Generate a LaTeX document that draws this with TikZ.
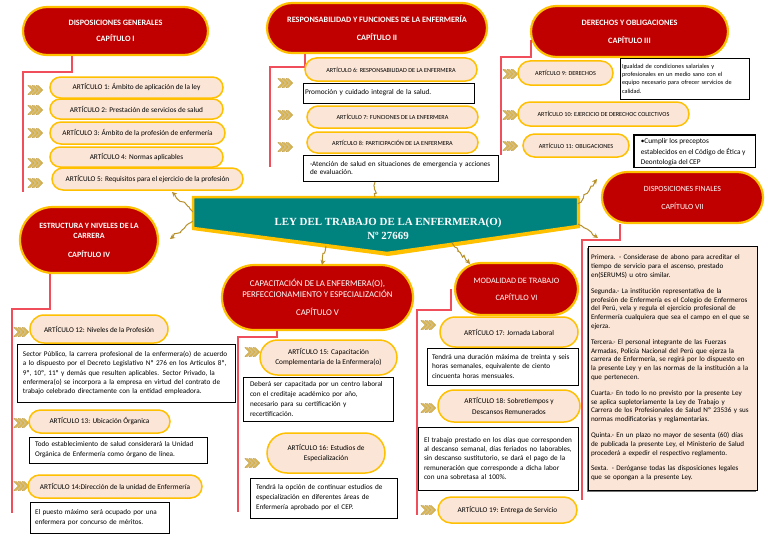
\documentclass[tikz,border=0pt]{standalone}
\usepackage{fontspec}
\setmainfont{Carlito}
\newfontfamily\bannerfont{Liberation Serif}
\usetikzlibrary{shapes.misc,decorations.pathmorphing,arrows.meta}
\definecolor{cred}{HTML}{C00000}
\definecolor{cgold}{HTML}{FFC000}
\definecolor{cpeach}{HTML}{FBE5D6}
\definecolor{cline}{HTML}{F04E5A}
\definecolor{cteal}{HTML}{00827F}
\definecolor{cchev}{HTML}{E6C25A}
\definecolor{cchevd}{HTML}{B08A2E}
\definecolor{cwave}{HTML}{B8902A}
\begin{document}
\begin{tikzpicture}[x=1pt,y=-1pt,
 chap/.style={rounded rectangle, fill=cred, draw=cgold, line width=2.2pt, text=white, align=center, font=\fontsize{8.2}{10}\selectfont\bfseries, inner sep=0pt},
 chapn/.style={chap, font=\fontsize{8.2}{10}\selectfont},
 art/.style={rounded rectangle, fill=cpeach, draw=cgold, line width=1.5pt, align=center, font=\fontsize{7.3}{10}\selectfont, inner sep=0pt},
 artc/.style={art, font=\fontsize{6.2}{7}\selectfont},
 tbox/.style={rectangle, draw=black, fill=white, line width=0.8pt, align=left, font=\fontsize{7.2}{9.2}\selectfont, inner sep=0pt},
 redl/.style={draw=cline, line width=1.8pt},
 wave/.style={draw=cwave, line width=1pt, -{Stealth[length=5pt,width=5pt]}, decorate, decoration={random steps, segment length=2.5pt, amplitude=1.6pt, pre length=1pt, post length=4pt}},
 wavep/.style={draw=cwave, line width=1pt, decorate, decoration={random steps, segment length=2.5pt, amplitude=1.6pt}},
 chevs/.pic={\foreach \i in {0,4,8}{\filldraw[fill=cchev,draw=cchevd,line width=0.4pt] (\i,-4.5)--(\i+2.2,-4.5)--(\i+6.5,0)--(\i+2.2,4.5)--(\i,4.5)--(\i+4.3,0)--cycle;}}
]
\useasboundingbox (0,0) rectangle (768,543);
\fill[white] (0,0) rectangle (768,543);

% ---------- banner ----------
\fill[cgold] (192,198)--(580,198)--(580,228)--(388,256)--(192,230)--cycle;
\draw[cgold, line width=2.5pt, fill=cteal] (193,197)--(578,197)--(578,226)--(387,253)--(193,228)--cycle;
\node[font=\bannerfont\bfseries\fontsize{10.9}{14}\selectfont, text=white, align=center] (ley) at (388,229) {LEY DEL TRABAJO DE LA ENFERMERA(O)\\Nº 27669};

% ---------- chapters ----------
\node[chap, minimum width=185pt, minimum height=48pt] (c1) at (115.5,31) {DISPOSICIONES GENERALES\\[6pt]CAPÍTULO I};
\node[chap, minimum width=220pt, minimum height=50pt] (c2) at (377,28) {RESPONSABILIDAD Y FUNCIONES DE LA ENFERMERÍA\\[8pt]CAPÍTULO II};
\node[chap, minimum width=197pt, minimum height=51pt] (c3) at (629.5,31.5) {DERECHOS Y OBLIGACIONES\\[8pt]CAPÍTULO III};
\node[chap, minimum width=138pt, minimum height=66pt, font=\fontsize{8}{10}\selectfont\bfseries] (c4) at (89,240) {ESTRUCTURA Y NIVELES DE LA\\CARRERA\\[9pt]CAPÍTULO IV};
\node[chapn, minimum width=191pt, minimum height=65pt, font=\fontsize{8.8}{11}\selectfont] (c5) at (317.5,297.5) {CAPACITACIÓN DE LA ENFERMERA(O),\\PERFECCIONAMIENTO Y ESPECIALIZACIÓN\\[7pt]CAPÍTULO V};
\node[chapn, minimum width=123pt, minimum height=52pt] (c6) at (516.5,289) {MODALIDAD DE TRABAJO\\[7pt]CAPÍTULO VI};
\node[chapn, minimum width=161pt, minimum height=51pt, font=\fontsize{7.9}{10}\selectfont] (c7) at (682.5,197.5) {DISPOSICIONES FINALES\\[8pt]CAPÍTULO VII};

% ---------- red bracket lines ----------
\draw[redl] ([xshift=-43.5pt]c1.south) |- (23,72) -- (23,192);
\draw[redl] ([xshift=-72pt]c2.south) |- (270,67) -- (270,167);
\draw[redl] ([yshift=-8.5pt,xshift=1pt]c3.west) |- (501,57) -- (501,155);
\draw[redl] ([xshift=-39pt]c4.south) |- (12,309) -- (12,513);
\draw[redl] ([xshift=-40.5pt]c5.south) |- (238,337) -- (238,512);
\draw[redl] ([xshift=-3pt]c6.west) |- (417,310) -- (417,515);
\draw[redl] ([xshift=-62.5pt]c7.south) |- (582,240) -- (582,500);

% ---------- chevrons ----------
\foreach \y in {90,110,133,163,183} {\pic at (28,\y) {chevs};}
\foreach \y in {83,115,147} {\pic at (278,\y) {chevs};}
\foreach \y in {74,115,146} {\pic at (503,\y) {chevs};}
\foreach \y in {332,423,486} {\pic at (14,\y) {chevs};}
\foreach \y in {352,463} {\pic at (245,\y) {chevs};}
\foreach \y in {325,408,510} {\pic at (421,\y) {chevs};}

% ---------- articles ----------
\node[art, minimum width=173pt, minimum height=21pt] (a1) at (136.5,87.5) {ARTÍCULO 1: Ámbito de aplicación de la ley};
\node[art, minimum width=173pt, minimum height=20pt] (a2) at (136.5,109) {ARTÍCULO 2: Prestación de servicios de salud};
\node[art, minimum width=175pt, minimum height=22pt] (a3) at (137.5,133) {ARTÍCULO 3: Ámbito de la profesión de enfermería};
\node[art, minimum width=173pt, minimum height=20pt] (a4) at (136.5,157) {ARTÍCULO 4: Normas aplicables};
\node[art, minimum width=191pt, minimum height=22pt] (a5) at (147.5,179) {ARTÍCULO 5: Requisitos para el ejercicio de la profesión};

\node[artc, minimum width=172pt, minimum height=23pt] (a6) at (391,69.5) {ARTÍCULO 6: RESPONSABILIDAD DE LA ENFERMERA};
\node[artc, minimum width=171pt, minimum height=22pt] (a7) at (392.5,117) {ARTÍCULO 7: FUNCIONES DE LA ENFERMERA};
\node[artc, minimum width=171pt, minimum height=21pt] (a8) at (392.5,142.5) {ARTÍCULO 8: PARTICIPACIÓN DE LA ENFERMERA};

\node[artc, minimum width=95pt, minimum height=24pt] (a9) at (565.5,73) {ARTÍCULO 9: DERECHOS};
\node[artc, minimum width=171pt, minimum height=24pt] (a10) at (603.5,114) {ARTÍCULO 10: EJERCICIO DE DERECHOC COLECTIVOS};
\node[artc, minimum width=106pt, minimum height=23pt] (a11) at (576,145.5) {ARTÍCULO 11: OBLIGACIONES};

\node[art, minimum width=138pt, minimum height=28pt] (a12) at (99,329) {ARTÍCULO 12: Niveles de la Profesión};
\node[art, minimum width=141pt, minimum height=23pt] (a13) at (99.5,421.5) {ARTÍCULO 13: Ubicación Órganica};
\node[art, minimum width=174pt, minimum height=23pt] (a14) at (115,486.5) {ARTÍCULO 14:Dirección de la unidad de Enfermería};

\node[art, minimum width=137pt, minimum height=35pt] (a15) at (328.5,357.5) {ARTÍCULO 15: Capacitación\\Complementaria de la Enfermera(o)};
\node[art, minimum width=118pt, minimum height=40pt] (a16) at (326,453) {ARTÍCULO 16: Estudios de\\Especialización};

\node[art, minimum width=138pt, minimum height=30pt] (a17) at (509,332) {ARTÍCULO 17: Jornada Laboral};
\node[art, minimum width=142pt, minimum height=32pt, font=\fontsize{7.3}{11}\selectfont] (a18) at (509,406) {ARTÍCULO 18: Sobretiempos y\\Descansos Remunerados};
\node[art, minimum width=139pt, minimum height=26pt] (a19) at (507.5,510) {ARTÍCULO 19: Entrega de Servicio};

% ---------- text boxes ----------
\node[tbox, minimum width=171pt, minimum height=20pt, text width=167pt, font=\fontsize{7.3}{9}\selectfont] (b6) at (388.5,93) {Promoción y cuidado integral de la salud.};
\node[tbox, minimum width=195pt, minimum height=26pt, text width=181pt, font=\fontsize{7.2}{8.6}\selectfont] (b8) at (400.5,168) {-Atención de salud en situaciones de emergencia y acciones\\de evaluación.};
\node[tbox, minimum width=129pt, minimum height=41pt, text width=125pt, font=\fontsize{6.2}{8.4}\selectfont] (b9) at (684.5,78.5) {Igualdad de condiciones salariales y\\profesionales en un medio sano con el\\equipo necesario para ofrecer servicios de\\calidad.};
\node[tbox, minimum width=121pt, minimum height=32pt] (b11) at (694.5,151) {};
\begin{scope}
\clip (b11.south west) rectangle (b11.north east);
\node[anchor=north west, align=left, inner sep=0pt, font=\fontsize{7.3}{10.5}\selectfont] (b11t) at ([xshift=7pt,yshift=-4pt]b11.north west) {•Cumplir los preceptos\\establecidos en el Código de Ética y\\Deontología del CEP};
\end{scope}
\draw[line width=0.8pt] (b11.south west) rectangle (b11.north east);

\node[tbox, minimum width=218pt, minimum height=58pt, text width=206pt, font=\fontsize{7.2}{9.4}\selectfont] (b12) at (126,373) {Sector Público, la carrera profesional de la enfermera(o) de acuerdo\\a lo dispuesto por el Decreto Legislativo Nº 276 en los Artículos 8º,\\9º, 10º, 11º y demás que resulten aplicables. Sector Privado, la\\enfermera(o) se incorpora a la empresa en virtud del contrato de\\trabajo celebrado directamente con la entidad empleadora.};
\node[tbox, minimum width=178pt, minimum height=26pt, text width=166pt, font=\fontsize{7.2}{10}\selectfont] (b13) at (118,450) {Todo establecimiento de salud considerará la Unidad\\Orgánica de Enfermería como órgano de línea.};
\node[tbox, minimum width=139pt, minimum height=31pt, text width=129pt] (b14) at (99.5,517.5) {El puesto máximo será ocupado por una\\enfermera por concurso de méritos.};

\node[tbox, minimum width=150pt, minimum height=44pt, text width=136pt, font=\fontsize{7.2}{9.7}\selectfont] (b15) at (318,399) {Deberá ser capacitada por un centro laboral\\con el creditaje académico por año,\\necesario para su certificación y\\recertificación.};
\node[tbox, minimum width=147pt, minimum height=40pt, text width=135pt, font=\fontsize{7.2}{10}\selectfont] (b16) at (323.5,498) {Tendrá la opción de continuar estudios de\\especialización en diferentes áreas de\\Enfermería aprobado por el CEP.};

\node[tbox, minimum width=151pt, minimum height=37pt, text width=141pt, font=\fontsize{7.2}{9.5}\selectfont] (b17) at (502.5,366.5) {Tendrá una duración máxima de treinta y seis\\horas semanales, equivalente de ciento\\cincuenta horas mensuales.};
\node[tbox, minimum width=160pt, minimum height=63pt, text width=148pt, font=\fontsize{7.2}{9.2}\selectfont] (b18) at (498,458.5) {El trabajo prestado en los días que corresponden\\al descanso semanal, días feriados no laborables,\\sin descanso sustitutorio, se dará el pago de la\\remuneración que corresponde a dicha labor\\con una sobretasa al 100\%.};

\fill[black!55] (587,248) rectangle (756,492);
\node[tbox, fill=cpeach, minimum width=169pt, minimum height=244pt, text width=163pt, font=\fontsize{7.1}{8.8}\selectfont] (b7) at (672.5,368) {Primera. - Considerase de abono para acreditar el\\tiempo de servicio para el ascenso, prestado\\en(SERUMS) u otro similar.\\[7pt]
Segunda.- La institución representativa de la\\profesión de Enfermería es el Colegio de Enfermeros\\del Perú, vela y regula el ejercicio profesional de\\Enfermería cualquiera que sea el campo en el que se\\ejerza.\\[7pt]
Tercera.- El personal integrante de las Fuerzas\\Armadas, Policía Nacional del Perú que ejerza la\\carrera de Enfermería, se regirá por lo dispuesto en\\la presente Ley y en las normas de la institución a la\\que pertenecen.\\[7pt]
Cuarta.- En todo lo no previsto por la presente Ley\\se aplica supletoriamente la Ley de Trabajo y\\Carrera de los Profesionales de Salud Nº 23536 y sus\\normas modificatorias y reglamentarias.\\[7pt]
Quinta.- En un plazo no mayor de sesenta (60) días\\de publicada la presente Ley, el Ministerio de Salud\\procederá a expedir el respectivo reglamento.\\[7pt]
Sexta. - Deróganse todas las disposiciones legales\\que se opongan a la presente Ley.};

% ---------- wavy connectors ----------
\coordinate (w1s) at (375,197); \coordinate (w1e) at (375,182);
\coordinate (w2s) at (193,212); \coordinate (w2e) at (172,192);
\coordinate (w3s) at (193,221); \coordinate (w3e) at (170,239);
\coordinate (w4s) at (326,246); \coordinate (w4e) at (322,265);
\coordinate (w5s) at (452,243); \coordinate (w5e) at (470,264);
\coordinate (w6s) at (578,204); \coordinate (w6e) at (597,179);
\coordinate (w7s) at (578,224); \coordinate (w7e) at (598,238);
\draw[wavep] (w1s) -- (w1e);
\draw[wave] (w2s) -- (w2e);
\draw[wave] (w3s) -- (w3e);
\draw[wave] (w4s) -- (w4e);
\draw[wave] (w5s) -- (w5e);
\draw[wave] (w6s) -- (w6e);
\draw[wave] (w7s) -- (w7e);
\end{tikzpicture}
\end{document}
